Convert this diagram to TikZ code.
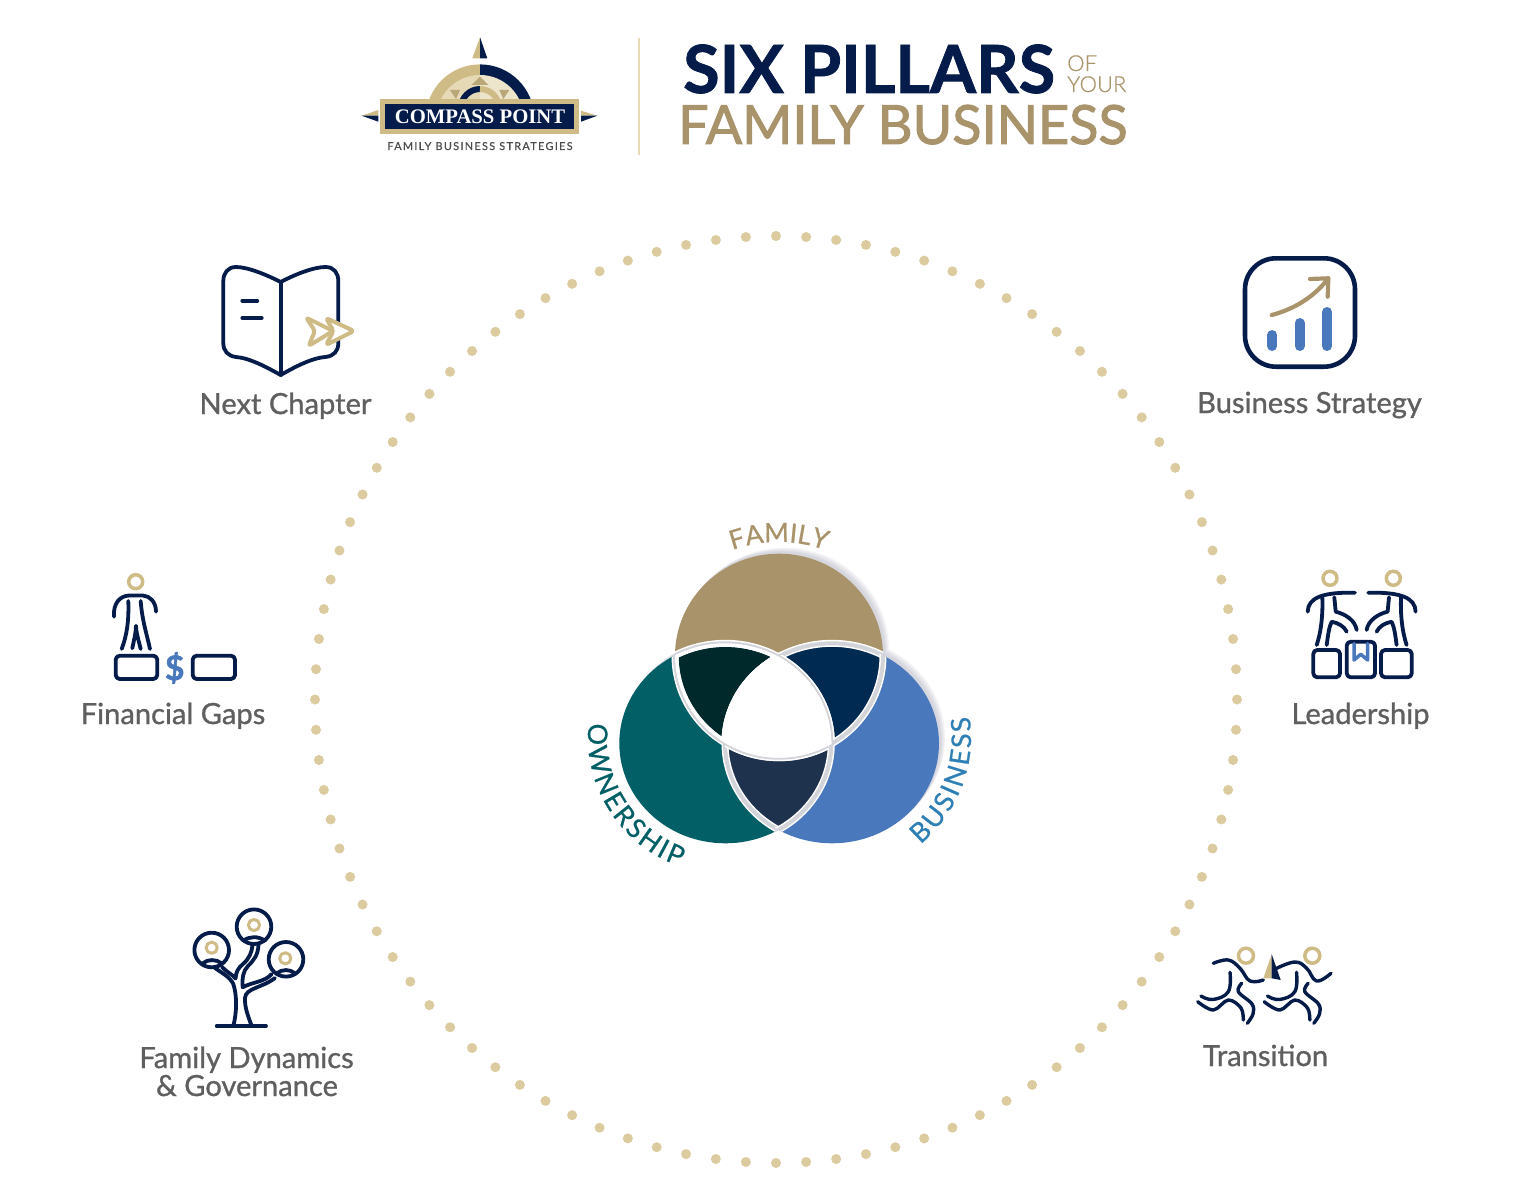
\documentclass[tikz,border=0pt]{standalone}
\usepackage{fontspec}
\usetikzlibrary{decorations.text}
\setmainfont{Lato}
\newfontfamily\lab[FakeBold=0.9]{Lato}
\newfontfamily\arcf[FakeBold=0.6]{Lato}
\newfontfamily\semi[FakeBold=1.8]{Lato}
\newfontfamily\bld[FakeBold=1.2]{Lato Bold}
\newfontfamily\thin[FakeBold=0.4]{Lato Light}
\newfontfamily\logos{Liberation Serif}[BoldFont=Liberation Serif Bold]
\newfontfamily\spaced[LetterSpace=12,FakeBold=0.4]{Lato}
\newcommand\kk{\kern2.6pt}
\definecolor{navy}{HTML}{051C4A}
\definecolor{gold}{HTML}{A9936A}
\definecolor{sand}{HTML}{CFBB85}
\definecolor{dotc}{HTML}{DCCB9F}
\definecolor{pale}{HTML}{E6D9B6}
\definecolor{tan}{HTML}{B9A77A}
\definecolor{blu}{HTML}{4A78BD}
\definecolor{teal2}{HTML}{025F66}
\definecolor{dteal}{HTML}{00292B}
\definecolor{dblue}{HTML}{012A52}
\definecolor{dnavy}{HTML}{1F324D}
\definecolor{txt}{HTML}{5F5F5F}
\definecolor{busi}{HTML}{2E7FB5}
\definecolor{sep}{HTML}{D3D4DA}
\tikzset{
 icon/.style={draw=navy,line width=3.8pt,line cap=round,line join=round},
 goldline/.style={draw=sand,line width=3.5pt,line cap=round,line join=round},
 bluline/.style={draw=blu,line width=3.5pt,line cap=round,line join=round},
 labeltext/.style={anchor=base,text=txt,inner sep=0pt,font=\lab\fontsize{29.1pt}{31pt}\selectfont},
 Fp/.style={insert path={(779,655.7) ellipse [x radius=104pt,y radius=102pt]}},
 Op/.style={insert path={(725.3,743.3) ellipse [x radius=106pt,y radius=100pt]}},
 Bp/.style={insert path={(832,743.3) ellipse [x radius=107pt,y radius=100pt]}},
}
\begin{document}
\begin{tikzpicture}[x=1pt,y=-1pt]
\useasboundingbox (0,0) rectangle (1536,1193);
\fill[white] (0,0) rectangle (1536,1193);
% ---------- dotted ring
\foreach \i in {0,...,95}
  \fill[dotc] ({776+461*cos(\i*3.75)},{699.5+463.5*sin(\i*3.75)}) circle[radius=5pt];
% ---------- logo
\fill[sand] (472.3,58.3) -- (480,37.3) -- (480,58.3) -- cycle;
\fill[navy] (480,37.3) -- (487.3,58.3) -- (480,58.3) -- cycle;
\fill[sand] (480,118.7) -- ++(0,-54.3) arc[start angle=90,end angle=180,radius=54.3pt] -- cycle;
\fill[navy] (480,118.7) -- ++(0,-54.3) arc[start angle=90,end angle=0,radius=54.3pt] -- cycle;
\fill[pale] (480,118.7) -- ++(0,-43.7) arc[start angle=90,end angle=180,radius=43.7pt] -- cycle;
\fill[pale!70!white] (480,118.7) -- ++(0,-43.7) arc[start angle=90,end angle=0,radius=43.7pt] -- cycle;
\fill[tan] (471.7,85) -- (488.3,85) -- (480,76.7) -- cycle;
\fill[tan] (450,90) -- (460,90) -- (456,99) -- cycle;
\fill[tan] (499.3,90) -- (509.3,90) -- (503.3,99) -- cycle;
\draw[navy,line width=6pt] (461,108) arc[start angle=180,end angle=90,radius=19pt];
\draw[sand,line width=6pt] (480,89) arc[start angle=90,end angle=0,radius=19pt];
\fill[tan] (470,99) rectangle (490,104);
\fill[sand] (380.3,99) rectangle (579.3,133.7);
\fill[navy] (385.3,104) rectangle (574,129);
\fill[sand] (361.7,115.7) -- (378.3,110) -- (378.3,115.7) -- cycle;
\fill[navy] (361.7,115.7) -- (378.3,121.7) -- (378.3,115.7) -- cycle;
\fill[sand] (597.3,115.7) -- (581,110.7) -- (581,115.7) -- cycle;
\fill[navy] (597.3,115.7) -- (581,121.7) -- (581,115.7) -- cycle;
\node[anchor=base,text=white,inner sep=0pt] (logoname) at (480,123.7) {\logos\bfseries\fontsize{20.7pt}{22pt}\selectfont COMPASS POINT};
\node[anchor=base,text=black!70,inner sep=0pt] (logosub) at (480,150) {\spaced\fontsize{10.9pt}{12pt}\selectfont FAMILY BUSINESS STRATEGIES};
% ---------- title
\draw[pale,line width=2.2pt] (639,38) -- (639,155);
\node[anchor=base west,text=navy,inner sep=0pt] (t1) at (683,93) {\bld\fontsize{66.4pt}{68pt}\selectfont SIX PILLARS};
\node[anchor=base west,text=gold,inner sep=0pt] (t2) at (678,144) {\semi\fontsize{54pt}{56pt}\selectfont FAMILY BUSINESS};
\node[anchor=base west,text=gold,inner sep=0pt] (t3) at (1067,71) {\thin\fontsize{22pt}{24pt}\selectfont OF};
\node[anchor=base west,text=gold,inner sep=0pt] (t4) at (1067,92) {\thin\fontsize{22pt}{24pt}\selectfont YOUR};
% ---------- venn
\foreach \d/\c in {6/F4F4F6,5/ECECF0,4/E4E4EA,3/DCDCE3,2/D6D6DE}{
  \definecolor{sh}{HTML}{\c}
  \fill[sh,shift={(\d pt,\d pt)}] [Fp];
  \fill[sh,shift={(\d pt,\d pt)}] [Op];
  \fill[sh,shift={(\d pt,\d pt)}] [Bp];
}
\fill[gold] [Fp];
\fill[teal2] [Op];
\fill[blu] [Bp];
\begin{scope}\clip[Fp]; \fill[dteal] [Op]; \fill[dblue] [Bp]; \end{scope}
\begin{scope}\clip[Op]; \fill[dnavy] [Bp]; \end{scope}
\begin{scope}\clip[Fp]; \draw[white,line width=7pt] [Op]; \draw[white,line width=7pt] [Bp]; \draw[sep,line width=4pt] [Op]; \draw[sep,line width=4pt] [Bp]; \end{scope}
\begin{scope}\clip[Op]; \draw[white,line width=7pt] [Fp]; \draw[white,line width=7pt] [Bp]; \draw[sep,line width=4pt] [Fp]; \draw[sep,line width=4pt] [Bp]; \end{scope}
\begin{scope}\clip[Bp]; \draw[white,line width=7pt] [Fp]; \draw[white,line width=7pt] [Op]; \draw[sep,line width=4pt] [Fp]; \draw[sep,line width=4pt] [Op]; \end{scope}
\begin{scope}\clip[Fp]; \clip[Op]; \fill[white] [Bp];
  \draw[white,line width=7pt] [Fp]; \draw[white,line width=7pt] [Op]; \draw[white,line width=7pt] [Bp]; \end{scope}
% curved words
\path[decorate,decoration={text along path,text align=center,
  text={|\arcf\fontsize{26.5pt}{28pt}\selectfont\color{gold}|FAMILY}}]
  ([shift={(125:138pt)}]779,680) arc[start angle=125,end angle=55,radius=138pt];
\path[decorate,decoration={text along path,text align=center,
  text={|\arcf\fontsize{27pt}{28pt}\selectfont\color{teal2}|{O\kk}{W\kk}{N\kk}{E\kk}{R\kk}{S\kk}{H\kk}{I\kk}{P}}}]
  ([shift={(155:137pt)}]725,737) arc[start angle=155,end angle=270,radius=137pt];
\path[decorate,decoration={text along path,text align=center,
  text={|\arcf\fontsize{27pt}{28pt}\selectfont\color{busi}|{B\kk}{U\kk}{S\kk}{I\kk}{N\kk}{E\kk}{S\kk}{S}}}]
  ([shift={(-76:139pt)}]832,737) arc[start angle=-76,end angle=34,radius=139pt];
% ---------- Next Chapter
\draw[icon] (280.7,282) .. controls (265,274) and (247,267) .. (236,267)
  .. controls (228,267) and (223.3,273) .. (223.3,281) -- (223.3,343)
  .. controls (223.3,351) and (228,356) .. (236,357)
  .. controls (250,358) and (268,368) .. (280.7,375)
  .. controls (293,368) and (311,358) .. (325.5,357)
  .. controls (334,356) and (338.3,351) .. (338.3,343) -- (338.3,281)
  .. controls (338.3,273) and (334,267) .. (325.5,267)
  .. controls (314,267) and (296,274) .. (280.7,282) -- cycle;
\draw[icon] (280.7,282) -- (280.7,375);
\draw[icon] (242.3,300.7) -- (257.3,300.7);
\draw[icon] (242.3,318) -- (261.7,318);
\draw[goldline,line width=4pt,fill=white,rounded corners=3pt] (326,318) -- (354,331) -- (326,345) -- (333.5,331) -- cycle;
\draw[goldline,line width=4pt,fill=white,rounded corners=3pt] (306,317.5) -- (333,331) -- (308.5,346) -- (315,331) -- cycle;
\node[labeltext] (l1) at (285.5,414) {Next Chapter};
% ---------- Business Strategy
\draw[icon,line width=4.6pt,rounded corners=31pt] (1245,258.3) rectangle (1355,366.7);
\draw[blu,line width=10pt,line cap=round] (1272.3,335) -- (1272.3,346);
\draw[blu,line width=10pt,line cap=round] (1299.7,323) -- (1299.7,346);
\draw[blu,line width=10pt,line cap=round] (1327,312) -- (1327,346);
\draw[draw=gold,line width=4.2pt,line cap=round,line join=round] (1271.7,315) .. controls (1295,309) and (1315,296) .. (1328.3,278.3);
\draw[draw=gold,line width=4.2pt,line cap=round,line join=round] (1310,279) -- (1328.3,278.3) -- (1327.7,296.7);
\node[labeltext] (l2) at (1309.5,413) {Business Strategy};
% ---------- Financial Gaps
\draw[goldline] (135.7,581.7) circle[radius=7pt];
\draw[icon] (114,616.7) .. controls (113,603) and (120,596) .. (129,595.5) -- (143,595.5) .. controls (150,596) and (156,602) .. (156,611.7);
\draw[icon] (128.3,601) .. controls (129,620) and (127,635) .. (121.7,649);
\draw[icon] (140.7,601) .. controls (142,620) and (147,635) .. (150,649);
\draw[icon] (132.3,648.3) .. controls (134,640) and (136,632) .. (136,625.7) .. controls (136,632) and (139,642) .. (140.7,649);
\draw[icon,rounded corners=4pt] (115.7,655.7) rectangle (157.3,679);
\draw[icon,rounded corners=4pt] (192.7,655.7) rectangle (235,679);
\node[text=blu,inner sep=0pt] (dollar) at (174.7,668) {\bld\fontsize{34pt}{35pt}\selectfont\$};
\node[labeltext] (l3) at (173,724) {Financial Gaps};
% ---------- Leadership
\draw[goldline] (1330,578.3) circle[radius=7pt];
\draw[goldline] (1393.3,578.3) circle[radius=7pt];
\foreach \m/\o in {1/0,-1/2723.3}{
\begin{scope}[xscale=\m,xshift=\m*\o]
\draw[icon] (1307.7,611.7) .. controls (1308,598) and (1322,592) .. (1355,592.7);
\draw[icon] (1322.3,597.3) .. controls (1323,615) and (1321,632) .. (1316.7,645);
\draw[icon] (1334.3,597.3) -- (1335.7,611.7) .. controls (1345,614) and (1355,620) .. (1356.7,630);
\draw[icon] (1326.7,645) .. controls (1328,635) and (1329,627) .. (1331.7,621.7) .. controls (1338,623) and (1344,626) .. (1346.7,631.7);
\end{scope}}
\draw[icon,rounded corners=4pt] (1313.3,650) rectangle (1340,677.3);
\draw[icon,rounded corners=4pt] (1346.7,641.7) rectangle (1375,677.3);
\draw[icon,rounded corners=4pt] (1381,650) rectangle (1411.7,677.3);
\draw[bluline] (1354,643.5) -- (1354,660) -- (1360.7,654.3) -- (1367.7,660) -- (1367.7,643.5);
\node[labeltext] (l4) at (1360.5,724) {Leadership};
% ---------- Family Dynamics
\draw[icon] (254,926.7) circle[radius=17.3pt];
\draw[icon] (211.7,950) circle[radius=17.3pt];
\draw[icon] (286,959.3) circle[radius=17.3pt];
\draw[goldline,line width=3pt] (254,925) circle[radius=5.6pt];
\draw[goldline,line width=3pt] (211.7,947.7) circle[radius=5.6pt];
\draw[goldline,line width=3pt] (285.3,958.3) circle[radius=5.6pt];
\draw[icon] (243.3,940.7) .. controls (250,936) and (258,936) .. (265,940.7);
\draw[icon] (202.7,963.3) .. controls (208,959) and (216,959) .. (221.7,963.3);
\draw[icon] (276.7,973.3) .. controls (282,969) and (290,969) .. (295,973.3);
\draw[icon] (216.7,1026) -- (266,1026);
\draw[icon] (233.3,1026) .. controls (237,1012) and (237,995) .. (233.3,984) .. controls (230,977) and (222,973) .. (215,968);
\draw[icon] (222,967) .. controls (228,973) and (233,975) .. (235.5,978.5) .. controls (236,972) and (238,968) .. (243,964) .. controls (249,959) and (252,952) .. (252.5,945);
\draw[icon] (258.5,945) .. controls (258,955) and (254,960) .. (248,966) .. controls (243,971) and (242,978) .. (242.7,987.3) .. controls (252,982) and (265,982) .. (271.7,974);
\draw[icon] (251.7,1026) .. controls (248,1016) and (244.5,1007) .. (245,998) .. controls (245.5,988) and (262,988) .. (275,978);
\node[labeltext] (l5a) at (246.5,1068) {Family Dynamics};
\node[labeltext] (l5b) at (247,1096) {\& Governance};
% ---------- Transition
\draw[goldline] (1246,955.7) circle[radius=7.5pt];
\draw[goldline] (1312.3,955.7) circle[radius=7.5pt];
\draw[icon,line width=3.4pt] plot[smooth,tension=.7] coordinates {(1213.3,963.3) (1228.3,960) (1240,968.3) (1250,981) (1263.3,980)};
\draw[icon,line width=3.4pt] plot[smooth,tension=.7] coordinates {(1276.7,968.3) (1295,962) (1306.7,968.3) (1316.7,981) (1331,973.3)};
\foreach \s in {0,66.5}{
\begin{scope}[xshift=\s]
\draw[icon,line width=3.4pt] plot[smooth,tension=.7] coordinates {(1230,972.3) (1228.3,991.7) (1213,999.5) (1201,996)};
\draw[icon,line width=3.4pt] plot[smooth,tension=.6] coordinates {(1241.7,983.3) (1238.3,991.7) (1252,1004) (1253,1014) (1247.3,1023.3)};
\draw[icon,line width=3.4pt] plot[smooth,tension=.6] coordinates {(1197.7,1001.7) (1213.3,1010) (1228.3,1000) (1241,1008) (1243.3,1020)};
\end{scope}}
\fill[sand] (1271.7,954.3) -- (1263.3,978.3) -- (1271.7,978.3) -- cycle;
\fill[navy] (1271.7,954.3) -- (1271.7,978.3) -- (1280.7,980) -- cycle;
\node[labeltext] (l6) at (1265.5,1066) {Transition};
\end{tikzpicture}
\end{document}
